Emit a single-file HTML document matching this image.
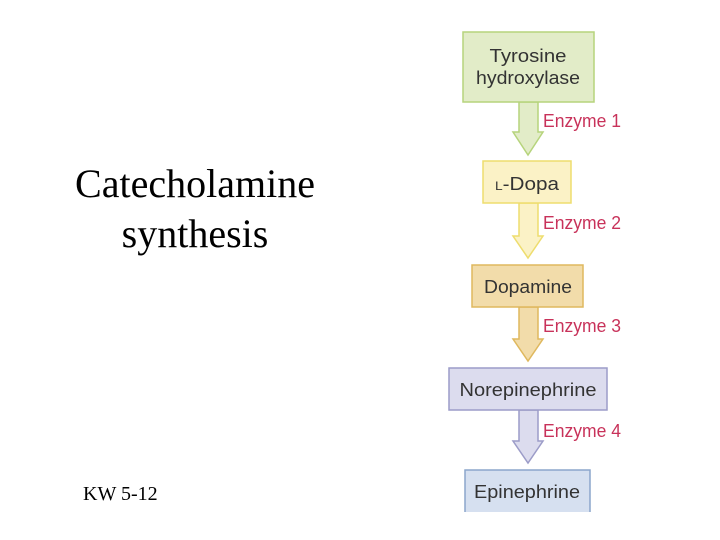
<!DOCTYPE html>
<html><head><meta charset="utf-8"><style>
html,body{margin:0;padding:0;background:#fff;}
svg{display:block;}
</style></head><body>
<svg width="720" height="540" viewBox="0 0 720 540" xmlns="http://www.w3.org/2000/svg">
<g font-family="Liberation Serif, serif" fill="#000" text-anchor="middle">
<text x="195" y="197" font-size="40">Catecholamine</text>
<text x="195" y="247" font-size="40">synthesis</text>
</g>
<text x="83" y="500" font-family="Liberation Serif, serif" font-size="20">KW 5-12</text>

<g stroke-width="1.5">
<polygon points="519,102 538,102 538,132 543,132 528,155 513,132 519,132" fill="#e2ecc8" stroke="#b6d47c"/>
<polygon points="519,203 538,203 538,236 543,236 528,258 513,236 519,236" fill="#fbf2c6" stroke="#eedd6e"/>
<polygon points="519,307 538,307 538,339 543,339 528,361 513,339 519,339" fill="#f2dcaa" stroke="#dfb85e"/>
<polygon points="519,410 538,410 538,441 543,441 528,463 513,441 519,441" fill="#dcdcee" stroke="#9c9cc8"/>
</g>
<g stroke-width="1.5">
<rect x="463" y="32" width="131" height="70" fill="#e2ecc8" stroke="#b6d47c"/>
<rect x="483" y="161" width="88" height="42" fill="#fbf2c6" stroke="#eedd6e"/>
<rect x="472" y="265" width="111" height="42" fill="#f2dcaa" stroke="#dfb85e"/>
<rect x="449" y="368" width="158" height="42" fill="#dcdcee" stroke="#9c9cc8"/>
<path d="M465,512 V470 H590 V512" fill="#d6e0f0" stroke="#8ca6cc"/>
</g>
<g font-family="Liberation Sans, sans-serif" font-size="18" fill="#333" text-anchor="middle" lengthAdjust="spacingAndGlyphs">
<text x="528" y="62" textLength="77" lengthAdjust="spacingAndGlyphs">Tyrosine</text>
<text x="528" y="84" textLength="104" lengthAdjust="spacingAndGlyphs">hydroxylase</text>
<text x="527" y="190" textLength="64" lengthAdjust="spacingAndGlyphs"><tspan font-size="12">L</tspan>-Dopa</text>
<text x="528" y="293" textLength="88" lengthAdjust="spacingAndGlyphs">Dopamine</text>
<text x="528" y="396" textLength="137" lengthAdjust="spacingAndGlyphs">Norepinephrine</text>
<text x="527" y="498" textLength="106" lengthAdjust="spacingAndGlyphs">Epinephrine</text>
</g>
<g font-family="Liberation Sans, sans-serif" font-size="18" fill="#c8325a">
<text x="543" y="127" textLength="78" lengthAdjust="spacingAndGlyphs">Enzyme 1</text>
<text x="543" y="229" textLength="78" lengthAdjust="spacingAndGlyphs">Enzyme 2</text>
<text x="543" y="332" textLength="78" lengthAdjust="spacingAndGlyphs">Enzyme 3</text>
<text x="543" y="437" textLength="78" lengthAdjust="spacingAndGlyphs">Enzyme 4</text>
</g>
</svg>
</body></html>
